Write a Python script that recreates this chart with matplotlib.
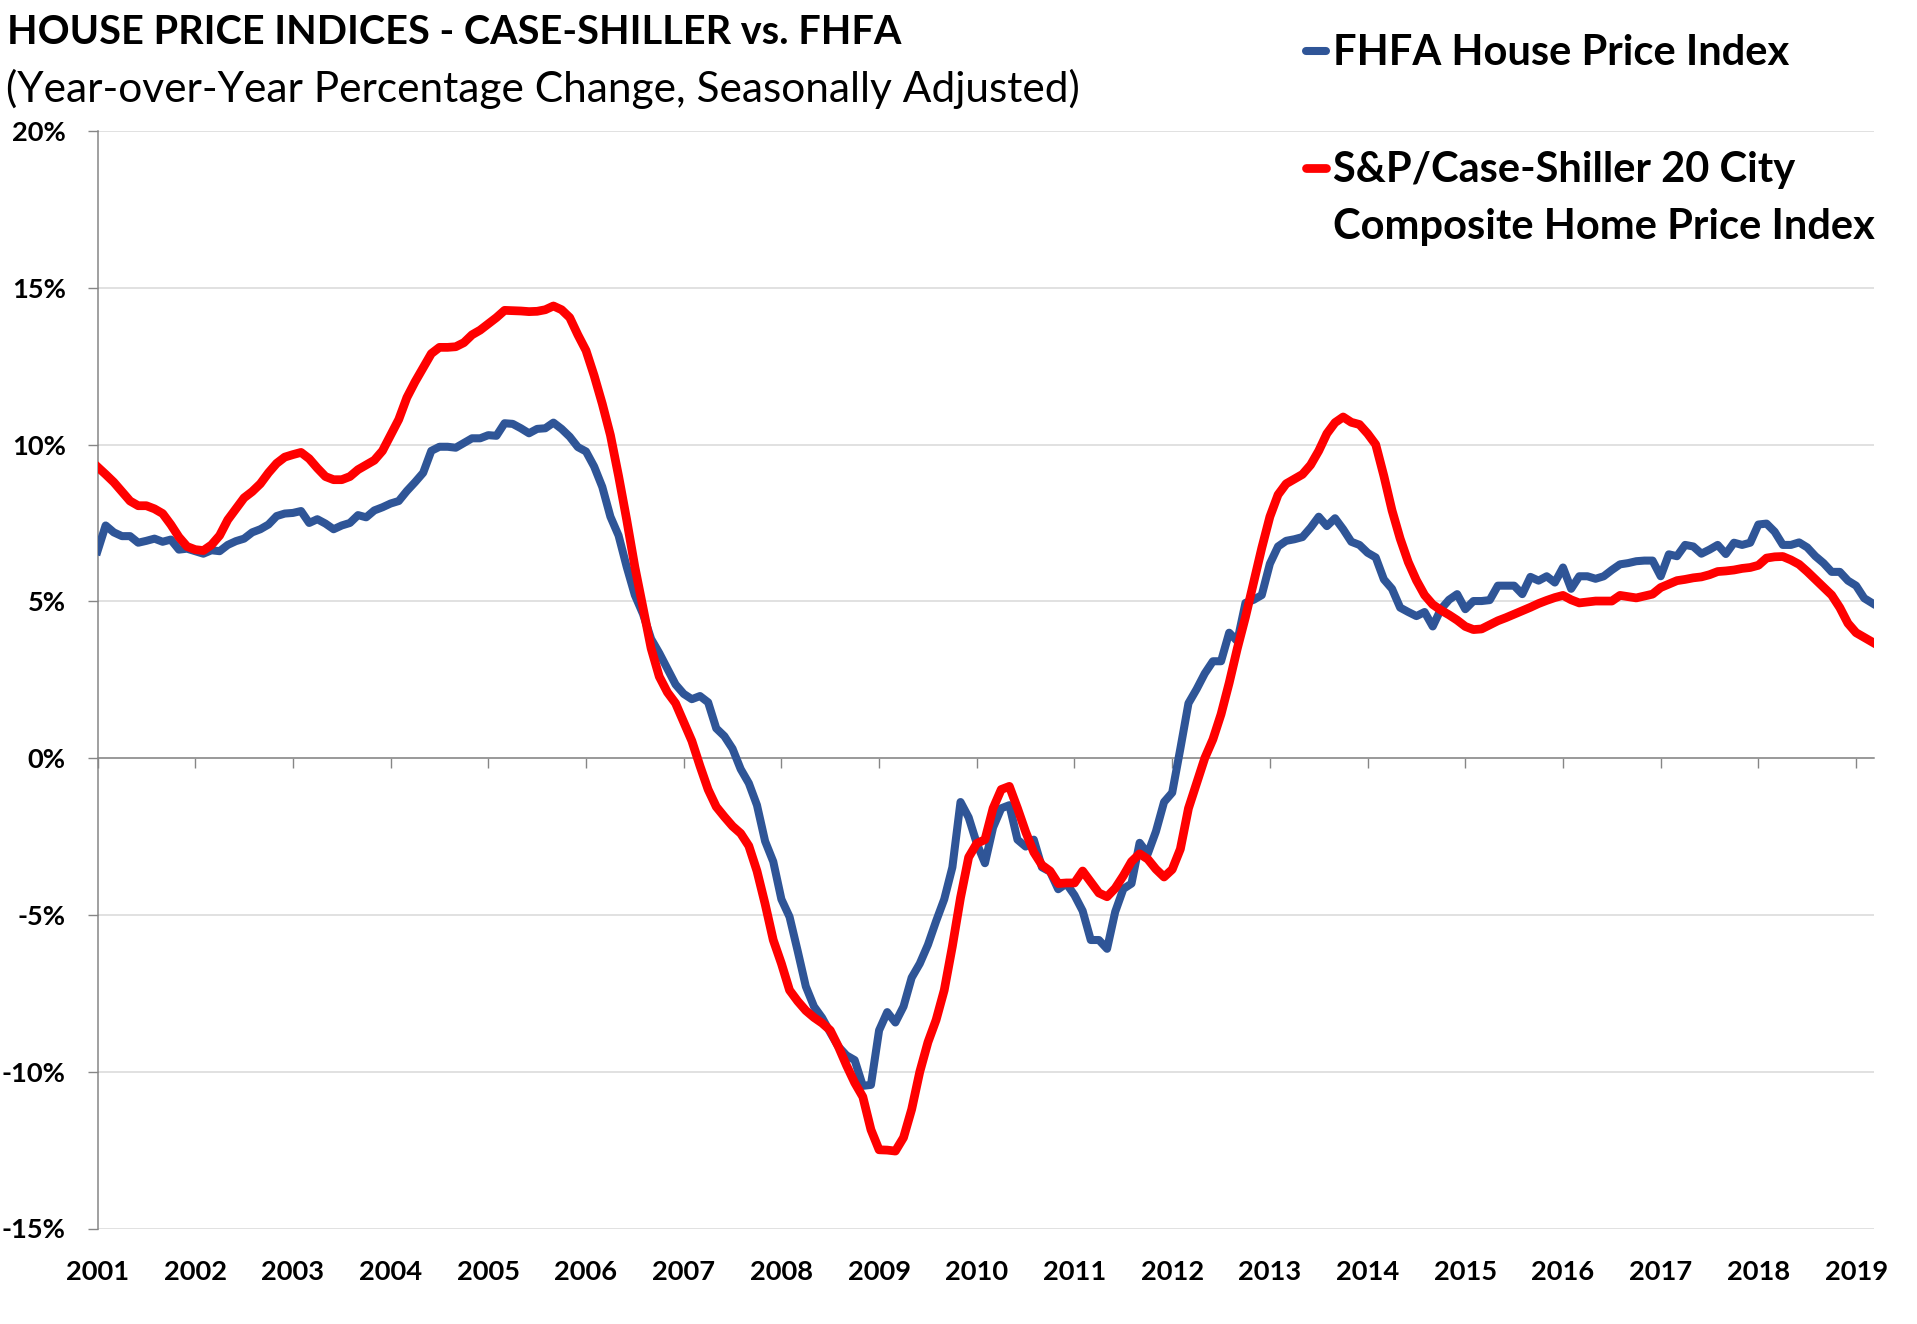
import numpy as np
import matplotlib
matplotlib.use("Agg")
import matplotlib.pyplot as plt
from matplotlib.lines import Line2D

plt.rcParams['font.family'] = ['Lato', 'DejaVu Sans']

# ---------------- data (monthly, Jan 2001 - Mar 2019) ----------------
start_year = 2001
fhfa = [
    # 2001
    6.60, 7.42, 7.20, 7.08, 7.08, 6.87, 6.93, 7.00, 6.90, 6.97, 6.65, 6.68,
    # 2002
    6.60, 6.52, 6.63, 6.60, 6.80, 6.92, 7.00, 7.20, 7.30, 7.45, 7.72, 7.80,
    # 2003
    7.82, 7.88, 7.50, 7.62, 7.48, 7.30, 7.42, 7.50, 7.75, 7.68, 7.90, 8.00,
    # 2004
    8.12, 8.20, 8.52, 8.80, 9.10, 9.80, 9.93, 9.93, 9.90, 10.05, 10.20, 10.20,
    # 2005
    10.30, 10.28, 10.68, 10.66, 10.52, 10.36, 10.50, 10.52, 10.70, 10.50, 10.25, 9.92,
    # 2006
    9.78, 9.30, 8.65, 7.70, 7.10, 6.10, 5.20, 4.60, 3.80, 3.35, 2.85, 2.35,
    # 2007
    2.05, 1.88, 1.98, 1.78, 0.95, 0.70, 0.30, -0.35, -0.80, -1.50, -2.65, -3.30,
    # 2008
    -4.50, -5.06, -6.15, -7.28, -7.92, -8.28, -8.75, -9.20, -9.48, -9.63, -10.45, -10.42,
    # 2009
    -8.68, -8.10, -8.43, -7.92, -7.00, -6.55, -5.95, -5.20, -4.50, -3.48, -1.40, -1.89,
    # 2010
    -2.72, -3.35, -2.21, -1.60, -1.50, -2.60, -2.82, -2.60, -3.48, -3.62, -4.18, -4.00,
    # 2011
    -4.37, -4.87, -5.80, -5.80, -6.08, -4.90, -4.17, -4.00, -2.70, -3.05, -2.34, -1.40,
    # 2012
    -1.10, 0.30, 1.75, 2.20, 2.70, 3.09, 3.09, 4.00, 3.73, 4.95, 5.05, 5.20,
    # 2013
    6.20, 6.75, 6.93, 6.98, 7.05, 7.35, 7.70, 7.40, 7.65, 7.30, 6.90, 6.80,
    # 2014
    6.55, 6.40, 5.70, 5.40, 4.80, 4.66, 4.53, 4.66, 4.20, 4.75, 5.05, 5.23,
    # 2015
    4.75, 5.01, 5.01, 5.04, 5.50, 5.50, 5.50, 5.23, 5.78, 5.66, 5.80, 5.60,
    # 2016
    6.08, 5.40, 5.80, 5.80, 5.72, 5.80, 6.00, 6.18, 6.22, 6.28, 6.30, 6.30,
    # 2017
    5.80, 6.50, 6.44, 6.80, 6.75, 6.52, 6.65, 6.80, 6.51, 6.87, 6.80, 6.87,
    # 2018
    7.45, 7.48, 7.22, 6.80, 6.80, 6.88, 6.72, 6.44, 6.22, 5.94, 5.94, 5.66,
    # 2019
    5.50, 5.10, 4.94,
]
case_shiller = [
    # 2001
    9.29, 9.05, 8.80, 8.50, 8.20, 8.05, 8.05, 7.95, 7.80, 7.45, 7.05, 6.75,
    # 2002
    6.65, 6.62, 6.80, 7.10, 7.60, 7.95, 8.30, 8.50, 8.75, 9.10, 9.40, 9.60,
    # 2003
    9.68, 9.75, 9.55, 9.25, 8.98, 8.88, 8.88, 8.98, 9.20, 9.35, 9.50, 9.80,
    # 2004
    10.30, 10.80, 11.50, 12.00, 12.45, 12.90, 13.10, 13.10, 13.12, 13.25, 13.50, 13.65,
    # 2005
    13.85, 14.05, 14.28, 14.27, 14.26, 14.24, 14.25, 14.30, 14.42, 14.30, 14.05, 13.50,
    # 2006
    13.00, 12.20, 11.30, 10.30, 9.00, 7.60, 6.10, 4.80, 3.50, 2.60, 2.10, 1.75,
    # 2007
    1.15, 0.55, -0.25, -1.00, -1.55, -1.87, -2.17, -2.40, -2.80, -3.60, -4.65, -5.80,
    # 2008
    -6.55, -7.40, -7.75, -8.05, -8.27, -8.45, -8.68, -9.20, -9.80, -10.35, -10.80, -11.85,
    # 2009
    -12.49, -12.50, -12.53, -12.10, -11.20, -10.00, -9.06, -8.35, -7.40, -6.00, -4.45, -3.16,
    # 2010
    -2.72, -2.60, -1.60, -1.00, -0.90, -1.60, -2.35, -3.00, -3.41, -3.60, -4.00, -3.98,
    # 2011
    -3.98, -3.60, -3.95, -4.30, -4.42, -4.15, -3.75, -3.30, -3.05, -3.22, -3.54, -3.79,
    # 2012
    -3.55, -2.90, -1.60, -0.80, 0.00, 0.60, 1.40, 2.40, 3.50, 4.50, 5.60, 6.70,
    # 2013
    7.70, 8.40, 8.75, 8.90, 9.05, 9.35, 9.80, 10.35, 10.70, 10.88, 10.71, 10.64,
    # 2014
    10.35, 10.00, 9.00, 7.90, 7.00, 6.25, 5.67, 5.20, 4.90, 4.72, 4.57, 4.40,
    # 2015
    4.20, 4.10, 4.12, 4.25, 4.38, 4.48, 4.59, 4.70, 4.81, 4.93, 5.03, 5.12,
    # 2016
    5.19, 5.05, 4.95, 4.98, 5.01, 5.01, 5.01, 5.19, 5.15, 5.11, 5.17, 5.23,
    # 2017
    5.44, 5.55, 5.66, 5.70, 5.75, 5.78, 5.85, 5.95, 5.97, 6.00, 6.05, 6.08,
    # 2018
    6.15, 6.38, 6.42, 6.43, 6.32, 6.18, 5.95, 5.70, 5.45, 5.20, 4.80, 4.30,
    # 2019
    4.00, 3.85, 3.70,
]
year_ticks = list(range(2001, 2020))
y_ticks = [-15, -10, -5, 0, 5, 10, 15, 20]

title = "HOUSE PRICE INDICES - CASE-SHILLER vs. FHFA"
subtitle = "(Year-over-Year Percentage Change, Seasonally Adjusted)"
label_fhfa = "FHFA House Price Index"
label_cs_1 = "S&P/Case-Shiller 20 City"
label_cs_2 = "Composite Home Price Index"

# ---------------- figure ----------------
W, H = 1917, 1324
fig = plt.figure(figsize=(W / 100, H / 100), dpi=100)
ax = fig.add_axes([97.5 / W, 1 - 1228.5 / H, (1874 - 97.5) / W, (1228.5 - 131) / H])

t = start_year + np.arange(len(fhfa)) / 12.0
BLUE = '#2F5597'
RED = '#FF0000'
ax.plot(t, fhfa, color=BLUE, lw=5.8, solid_joinstyle='round', zorder=3)
ax.plot(t, case_shiller, color=RED, lw=6.3, solid_joinstyle='round', zorder=4)

ax.set_xlim(start_year, start_year + (len(fhfa) - 1 + 0.2) / 12.0)
ax.set_ylim(-15, 20)

# y axis
ax.set_yticks(y_ticks)
ax.set_yticklabels([f"{v}%" for v in y_ticks])
ax.tick_params(axis='y', direction='out', length=7.3, width=1.0, color='#868686',
               pad=15.5, labelsize=19.6)
for lab in ax.get_yticklabels():
    lab.set_fontweight('bold')
ax.grid(axis='y', color='#d9d9d9', lw=1.1, zorder=0)
ax.set_axisbelow(True)

# spines
for s in ['top', 'right']:
    ax.spines[s].set_visible(False)
ax.spines['left'].set_color('#868686')
ax.spines['left'].set_linewidth(1.1)
ax.spines['bottom'].set_position(('data', 0))
ax.spines['bottom'].set_color('#868686')
ax.spines['bottom'].set_linewidth(1.1)
ax.spines['bottom'].set_zorder(2)

# x ticks on zero line, labels at the bottom
ax.set_xticks(year_ticks)
ax.tick_params(axis='x', direction='out', length=7.3, width=1.0, color='#868686',
               labelbottom=False)
sec = ax.secondary_xaxis(0)
sec.set_xticks(year_ticks)
sec.set_xticklabels([str(y) for y in year_ticks])
sec.tick_params(axis='x', length=0, pad=23, labelsize=19.6)
for lab in sec.get_xticklabels():
    lab.set_fontweight('bold')
sec.spines['bottom'].set_visible(False)

# titles
fig.text(7 / W, 1 - 44 / H, title, fontsize=28.5, fontweight='bold', va='baseline', ha='left')
fig.text(6 / W, 1 - 102 / H, subtitle, fontsize=30.5, va='baseline', ha='left')

# legend (manual)
def legend_entry(ymark, color, lw):
    fig.add_artist(Line2D([1306 / W, 1326 / W], [1 - ymark / H, 1 - ymark / H],
                          transform=fig.transFigure, color=color, lw=lw,
                          solid_capstyle='round'))

legend_entry(51, BLUE, 5.8)
fig.text(1333 / W, 1 - 65 / H, label_fhfa, fontsize=30, fontweight='bold', va='baseline')
legend_entry(168, RED, 6.3)
fig.text(1333 / W, 1 - 182 / H, label_cs_1, fontsize=30, fontweight='bold', va='baseline')
fig.text(1333 / W, 1 - 239 / H, label_cs_2, fontsize=30, fontweight='bold', va='baseline')

fig.savefig('out.png', dpi=100)
